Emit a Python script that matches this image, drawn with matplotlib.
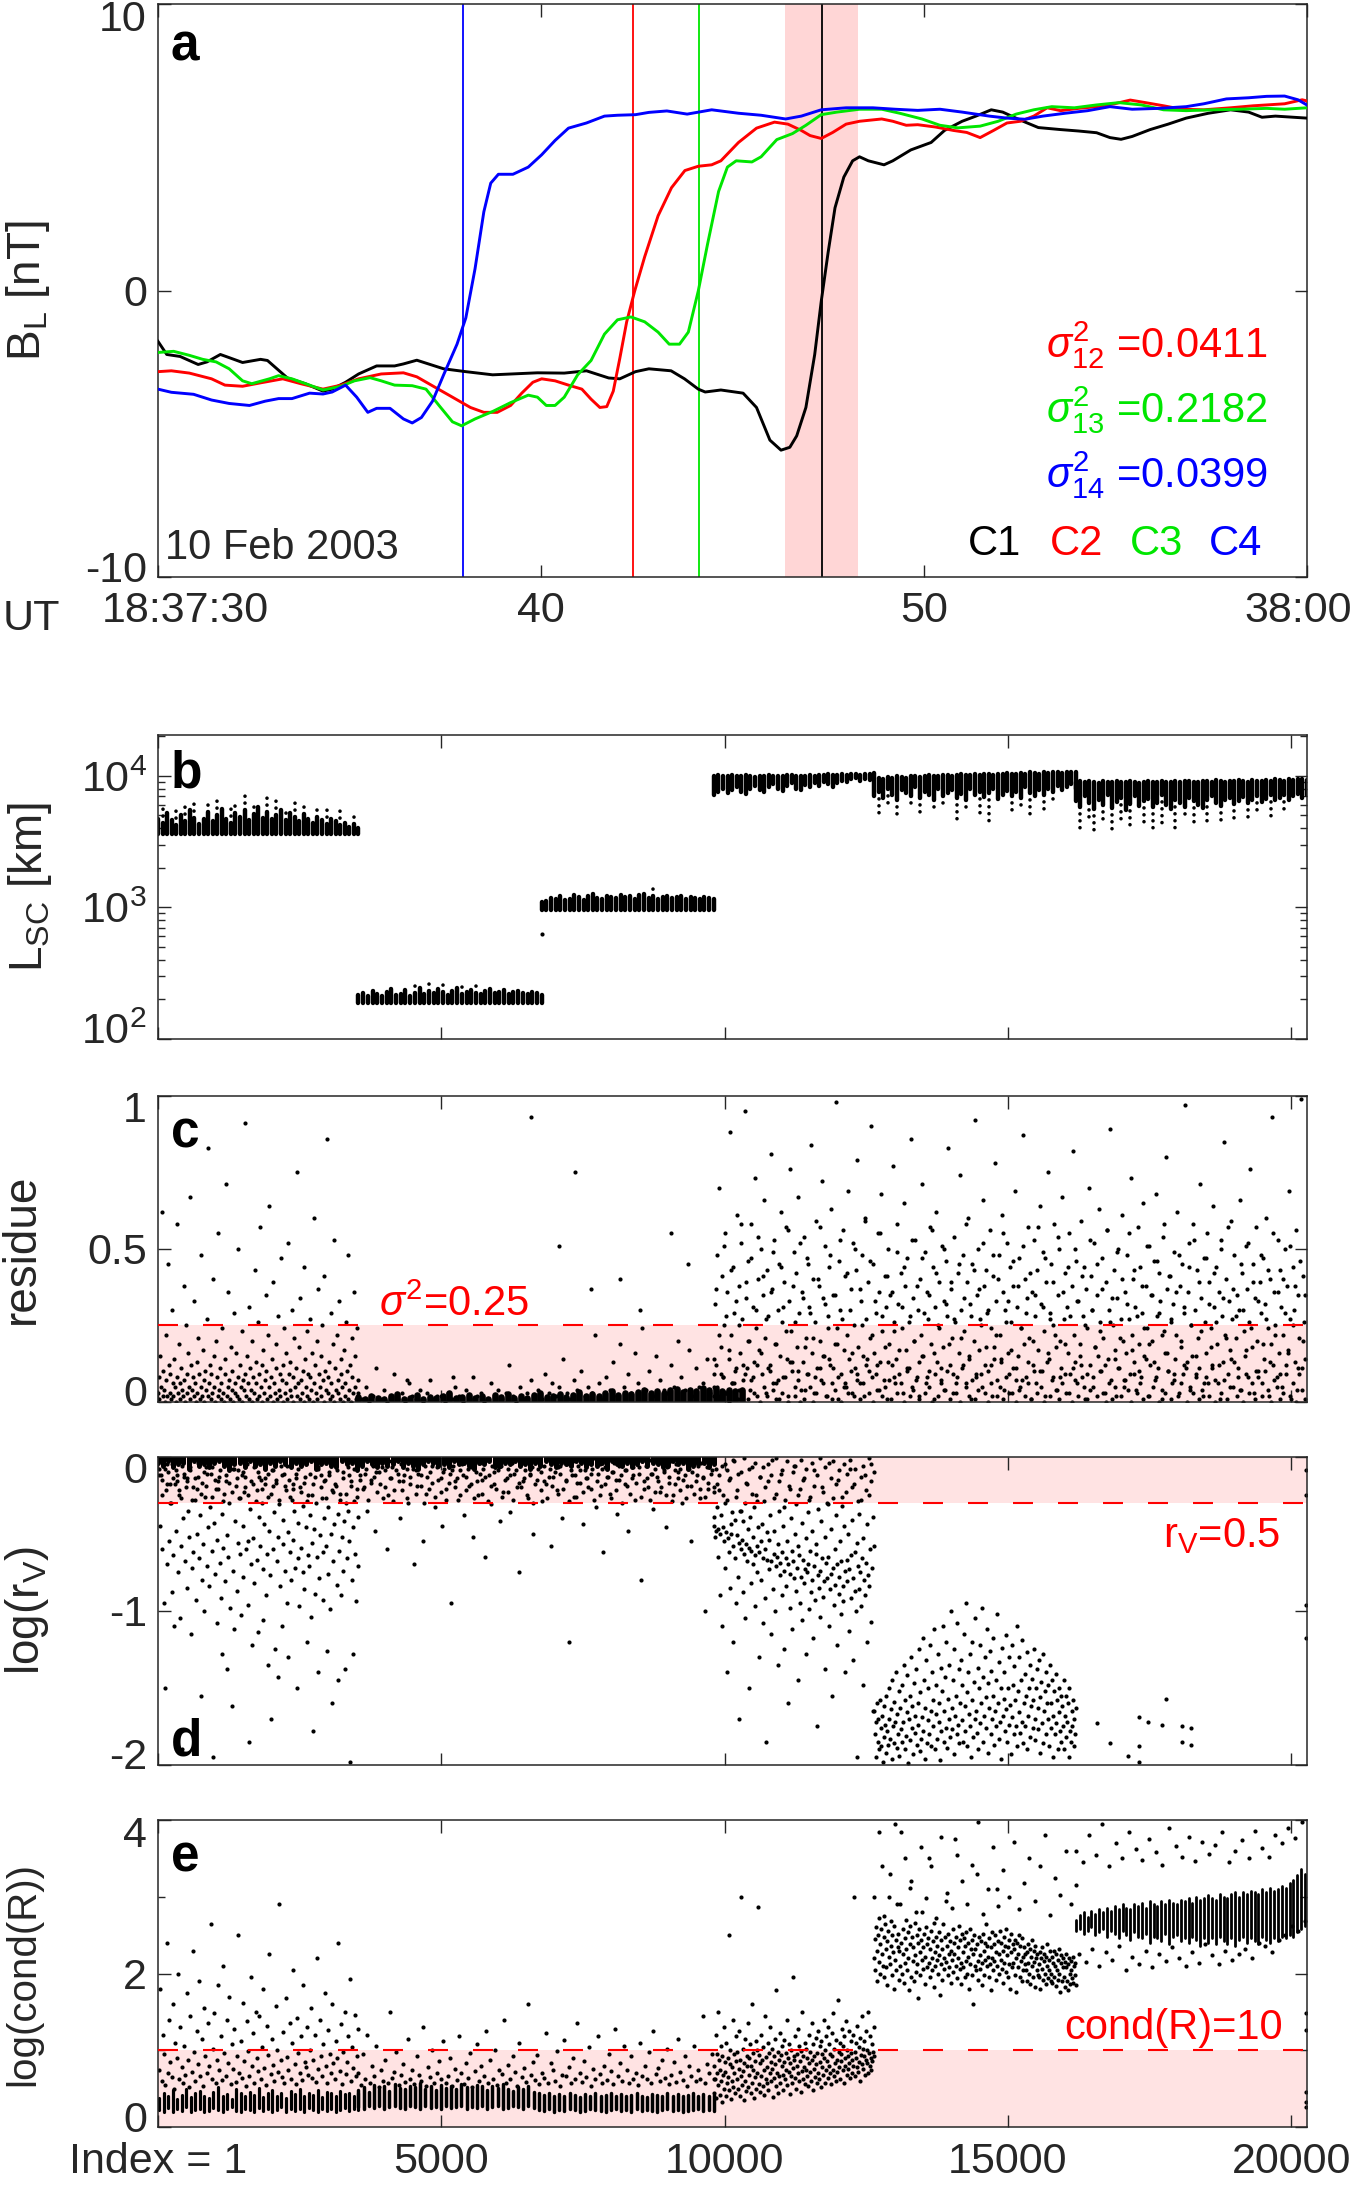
import numpy as np
import matplotlib
matplotlib.use('agg')
import matplotlib.pyplot as plt
import matplotlib.transforms as mtransforms
from matplotlib import font_manager

# the reference lettering is tall and narrow, use a narrow sans when it is there
installed = {f.name for f in font_manager.fontManager.ttflist}
if 'Liberation Sans Narrow' in installed:
    base_family, fs, tfs = 'Liberation Sans Narrow', 36, 35
else:
    base_family, fs, tfs = 'Liberation Sans', 31, 30
plt.rcParams['font.family'] = [base_family, 'DejaVu Sans']
plt.rcParams['mathtext.fontset'] = 'custom'
plt.rcParams['mathtext.rm'] = base_family
plt.rcParams['mathtext.it'] = base_family + ':italic'
plt.rcParams['mathtext.bf'] = base_family + ':bold'
plt.rcParams['axes.unicode_minus'] = False
plt.rcParams['font.size'] = fs

# ---------------- panel a : B_L for the four spacecraft (seconds after 18:37)
t_c1 = [30, 30.23, 30.58, 31.05, 31.28, 31.63, 31.86, 32.21, 32.68, 32.86, 33.38, 33.85, 34.31, 34.55, 34.9, 35.24,
        35.71, 36.18, 36.41, 36.76, 37.11, 37.46, 38.04, 38.74, 39.91, 40.61, 41.19, 41.77, 42.06, 42.47, 42.82, 43.4,
        43.75, 44.11, 44.29, 44.7, 45.28, 45.63, 45.98, 46.27, 46.5, 46.68, 46.92, 47.15, 47.32, 47.5, 47.68, 47.91,
        48.14, 48.32, 48.55, 48.96, 49.19, 49.66, 50.19, 50.54, 51.0, 51.36, 51.76, 52.06, 52.52, 52.99, 53.57, 54.04,
        54.51, 54.86, 55.15, 55.44, 55.91, 56.38, 56.85, 57.43, 58.01, 58.48, 58.83, 59.18, 59.65, 60]
bl_c1 = [-1.76, -2.22, -2.29, -2.57, -2.48, -2.22, -2.33, -2.50, -2.39, -2.43, -3.04, -3.24, -3.50, -3.43, -3.19, -2.90,
         -2.62, -2.62, -2.55, -2.42, -2.57, -2.72, -2.82, -2.93, -2.86, -2.87, -2.79, -3.04, -3.07, -2.82, -2.72, -2.79,
         -3.07, -3.43, -3.53, -3.46, -3.57, -4.07, -5.21, -5.56, -5.46, -5.06, -4.07, -2.22, -0.37, 1.34, 2.90, 3.97,
         4.54, 4.68, 4.54, 4.40, 4.54, 4.92, 5.18, 5.60, 5.92, 6.10, 6.32, 6.24, 5.96, 5.70, 5.63, 5.58,
         5.52, 5.35, 5.29, 5.39, 5.63, 5.82, 6.03, 6.20, 6.32, 6.24, 6.06, 6.10, 6.06, 6.03]
t_c2 = [30, 30.35, 30.82, 31.4, 31.75, 32.21, 32.68, 33.26, 33.73, 34.31, 34.78, 35.24, 35.83, 36.41, 36.76, 37.23,
        37.69, 38.16, 38.51, 38.86, 39.21, 39.5, 39.79, 40.02, 40.37, 40.72, 41.07, 41.31, 41.54, 41.72, 41.89, 42.06,
        42.24, 42.45, 42.71, 43.06, 43.41, 43.76, 44.11, 44.46, 44.7, 45.16, 45.63, 46.1, 46.45, 46.8, 47.03, 47.32,
        47.62, 47.97, 48.32, 48.9, 49.19, 49.54, 49.84, 50.3, 50.77, 51.12, 51.47, 51.82, 52.17, 52.52, 52.87, 53.22,
        53.57, 54.04, 54.51, 54.98, 55.39, 55.79, 56.26, 56.73, 57.31, 58.01, 58.6, 59.42, 59.88, 60]
bl_c2 = [-2.82, -2.79, -2.87, -3.07, -3.29, -3.33, -3.21, -3.07, -3.24, -3.43, -3.29, -3.07, -2.90, -2.86, -3.0, -3.36,
         -3.71, -4.07, -4.24, -4.24, -4.0, -3.57, -3.19, -3.07, -3.14, -3.29, -3.43, -3.78, -4.07, -4.04, -3.50, -2.36,
         -1.08, 0.0, 1.19, 2.62, 3.6, 4.2, 4.35, 4.40, 4.54, 5.18, 5.68, 5.89, 5.82, 5.60, 5.42, 5.32,
         5.53, 5.82, 5.92, 6.0, 5.92, 5.78, 5.80, 5.72, 5.60, 5.53, 5.35, 5.60, 5.86, 5.92, 6.10, 6.39,
         6.29, 6.37, 6.43, 6.53, 6.66, 6.57, 6.46, 6.34, 6.32, 6.39, 6.46, 6.53, 6.67, 6.63]
t_c3 = [30, 30.41, 30.82, 31.17, 31.52, 31.86, 32.21, 32.45, 32.91, 33.15, 33.5, 33.96, 34.31, 34.78, 35.13, 35.54,
        35.83, 36.18, 36.64, 37.0, 37.34, 37.69, 37.93, 38.28, 38.74, 39.21, 39.67, 39.91, 40.14, 40.37, 40.61, 40.96,
        41.31, 41.66, 42.0, 42.35, 42.71, 43.06, 43.35, 43.62, 43.85, 44.11, 44.35, 44.64, 44.87, 45.1, 45.51, 45.75,
        46.16, 46.57, 46.92, 47.32, 47.73, 48.32, 48.9, 49.37, 49.95, 50.42, 50.89, 51.47, 51.94, 52.41, 52.87, 53.34,
        53.93, 54.51, 55.09, 55.68, 56.26, 56.85, 57.55, 58.25, 58.95, 59.42, 60]
bl_c3 = [-2.15, -2.11, -2.25, -2.39, -2.48, -2.72, -3.14, -3.24, -3.07, -2.96, -3.07, -3.29, -3.46, -3.33, -3.14, -3.03,
         -3.14, -3.29, -3.31, -3.43, -4.0, -4.57, -4.71, -4.47, -4.21, -3.90, -3.64, -3.71, -4.0, -4.0, -3.71, -2.93,
         -2.43, -1.51, -1.01, -0.91, -1.08, -1.44, -1.86, -1.86, -1.44, 0.0, 1.62, 3.47, 4.32, 4.54, 4.5, 4.68,
         5.28, 5.49, 5.78, 6.15, 6.24, 6.34, 6.34, 6.20, 6.0, 5.78, 5.69, 5.75, 5.92, 6.17, 6.32, 6.43,
         6.39, 6.49, 6.57, 6.49, 6.32, 6.29, 6.32, 6.34, 6.37, 6.34, 6.39]
t_c4 = [30, 30.35, 30.93, 31.4, 31.86, 32.39, 32.8, 33.15, 33.5, 33.96, 34.31, 34.55, 34.9, 35.19, 35.48, 35.71,
        36.06, 36.41, 36.64, 36.88, 37.17, 37.46, 37.81, 38.04, 38.28, 38.51, 38.69, 38.89, 39.27, 39.67, 40.02, 40.37,
        40.72, 41.19, 41.66, 42.0, 42.47, 42.82, 43.29, 43.82, 44.46, 45.16, 45.75, 46.39, 46.8, 47.32, 47.97, 48.67,
        49.25, 49.84, 50.42, 51.0, 51.71, 52.17, 52.64, 53.11, 53.69, 54.28, 54.86, 55.44, 56.14, 56.85, 57.31, 57.9,
        58.48, 58.95, 59.42, 59.77, 60]
bl_c4 = [-3.43, -3.54, -3.61, -3.81, -3.93, -4.0, -3.85, -3.76, -3.76, -3.57, -3.60, -3.53, -3.29, -3.71, -4.24, -4.10,
         -4.10, -4.47, -4.61, -4.42, -3.85, -2.93, -1.86, -0.94, 0.77, 2.76, 3.76, 4.07, 4.07, 4.32, 4.75, 5.25,
         5.68, 5.86, 6.10, 6.13, 6.15, 6.23, 6.28, 6.17, 6.32, 6.20, 6.13, 6.0, 6.10, 6.32, 6.39, 6.39,
         6.34, 6.30, 6.34, 6.24, 6.10, 6.03, 5.99, 6.10, 6.20, 6.29, 6.43, 6.34, 6.37, 6.43, 6.53, 6.70,
         6.74, 6.79, 6.80, 6.67, 6.49]
crossing_times = [37.97, 42.41, 44.12, 47.33]
crossing_colors = ['#0000ff', '#ff0000', '#00e600', '#000000']
span_c1 = [46.38, 48.27]
sigma_labels = [r'$\sigma^2_{12}$ =0.0411', r'$\sigma^2_{13}$ =0.2182', r'$\sigma^2_{14}$ =0.0399']
sc_names = ['C1', 'C2', 'C3', 'C4']
sc_colors = ['#000000', '#ff0000', '#00e600', '#0000ff']

# ---------------- panels b-e : index axis, segments of the sliding-window scan
seg_edges = [1, 3540, 6772, 9810, 12640, 16200, 20275]
index_ticks = [1, 5000, 10000, 15000, 20000]
index_labels = ['Index = 1', '5000', '10000', '15000', '20000']

# panel b, L_SC [km] : streak columns (core lo/hi) and dotted tails
b1_lo = 3600
b1_hi = "47 44 52 46 42 50 45 55 48 43 47 53 45 50 56 47 44 52 49 55 46 51 58 48 53 47 50 55 46 52 49 45 51 47 44 49 46 43 47 45 42 44 41 43 40"
b1_tail = "0 60 0 0 55 0 64 0 68 0 0 62 0 70 0 0 58 66 0 72 0 63 0 0 70 0 66 0 58 0 68 0 62 0 0 60 0 57 0 0 55 0 0 50 0"
b2_lo = 188
b2_hi = "215 222 210 230 218 212 226 240 215 220 235 212 225 245 218 230 222 238 226 215 232 244 220 228 236 225 218 230 240 222 228 234 220 226 232 224 219 228 222 216"
b2_tail = "0 0 0 250 0 0 0 255 0 0 0 0 260 0 0 282 0 0 262 0 0 0 270 0 0 250 0 0 0 0 0 262 0 0 245 0 0 0 0 0"
b3_lo = 960
b3_hi = "1100 1120 1180 1150 1210 1130 1160 1240 1190 1140 1220 1260 1180 1150 1230 1200 1170 1250 1190 1220 1160 1240 1270 1180 1210 1150 1200 1230 1170 1190 1220 1160 1200 1180 1150 1190 1170 1160"
b3_tail = "0 0 0 0 0 0 0 0 0 0 0 1350 0 0 0 0 0 0 0 0 0 0 0 0 1400 0 0 0 0 0 0 0 0 0 0 0 0 0"
b3_outlier = [6780, 630]
b4_hi = "100 101 99 100 102 100 99 101 100 98 99 100 101 100 99 100 101 102 100 99 100 101 100 102 101 103 102 101 103 102 104 103 102 104 103 105"
b4_lo = "72 76 80 74 78 82 76 73 80 84 78 75 82 86 80 77 83 88 80 78 85 82 88 84 90 86 82 88 92 90 94 96 92 95 93 96"
b5_hi = "96 97 95 98 97 99 98 97 99 100 98 99 101 100 99 101 102 100 101 103 102 101 103 102 104 103 102 104 103 105 104 103 105 104 106 105 104 106 105 107 106 105 107 106 107"
b5_lo = "70 75 68 80 72 66 78 74 70 82 68 76 72 65 80 70 74 78 68 73 66 79 71 76 69 74 80 67 72 77 70 75 68 82 74 70 78 72 80 76 84 78 82 86 80"
b5_tail = "0 52 0 60 0 50 0 0 56 0 48 0 0 53 0 58 0 0 47 0 55 0 0 50 0 45 0 60 0 0 52 0 57 0 48 0 0 55 0 62 0 0 0 0 0"
b6_hi = "90 92 89 91 90 88 91 90 89 92 90 89 91 90 88 90 91 89 90 92 90 89 91 90 92 91 89 90 92 91 90 93 91 90 92 91 93 92 90 93 92 91 93 92 94 93 92 94 93 95 94 93"
b6_lo = "64 58 70 62 56 66 60 72 57 63 68 55 61 70 59 64 67 58 62 71 60 56 66 62 58 68 64 60 57 66 70 62 59 65 68 61 64 69 62 66 70 63 67 72 65 68 71 66 70 73 68 72"
b6_tail = "0 40 0 45 38 0 42 0 36 0 44 0 38 0 0 41 0 37 0 43 0 0 39 0 46 0 40 0 0 42 0 0 45 0 0 48 0 0 44 0 50 0 0 47 0 0 52 0 0 0 0 0"

# panel c, residue (hundredths unless noted)
c1 = """3 8 1 15 5 62 2 10 4 0 22 7 2 45 12 3 9 1 30 6 2 14 5 0 58 8 3 19 1 6 11 4 2 38 7 0 25 9 3 16
5 1 67 12 4 8 2 33 6 0 13 3 21 9 1 48 5 2 17 7 0 10 4 27 2 83 6 12 1 9 3 40 15 5 0 20 8 2 55 4
11 1 6 24 3 0 14 9 71 2 5 36 7 1 18 4 10 0 29 6 3 16 2 8 50 1 12 5 23 0 7 4 91 9 2 15 6 31 1 11
4 0 20 8 3 43 13 6 1 26 9 2 57 5 12 0 17 3 7 35 10 1 22 5 64 2 8 14 0 39 6 3 19 11 1 28 4 9 2 47
7 12 0 24 3 16 6 1 52 9 4 13 2 30 8 0 21 5 11 75 2 6 18 1 34 7 3 10 0 44 14 5 23 2 9 1 27 8 4 16
0 60 6 12 3 20 1 37 9 5 15 2 25 7 0 41 10 4 86 3 8 13 1 29 6 2 19 0 53 11 4 22 7 3 33 1 9 14 5 0
17 6 2 26 10 1 48 4 12 0 21 8 3 36 5 15 1 24 7 2"""
c_core_range = [3540, 10300]
c_core_hi = "15 10 20 12 8 18 25 10 14 22 9 16 12 20 28 11 15 24 13 18 10 21 16 27 12 19 14 23 30 17 20 26 15 22 32 18 25 20 28 35 22 30 26 33 40 28 35 30 38 42 32 40 36 44 38 42 36 40 34 38"  # thousandths
c2 = """3 1 5 0 2 11 1 4 0 2 9 1 3 0 6 2 1 4 0 3 7 1 2 2 0 3 1 5 2 0 4 1 8 2 3 0 1 6 2 4
1 3 12 2 0 5 1 3 7 2 4 1 9 3 6 2 5 14 3 1 7 4 10 2 5 3 22 6 1 8 4 13 2 19 5 9 3 16 6 24
4 10 2 15 7 4 3 12 5 20 8 4 17 2 11 5 6 14 3 9"""
c2_out_x = [4400, 5200, 6580, 7080, 7360, 7650, 8150, 8500, 9050, 9350]
c2_out_y = [0.07, 0.08, 0.93, 0.51, 0.75, 0.37, 0.40, 0.30, 0.55, 0.45]
c3 = """5 32 12 48 2 70 18 41 8 25 55 3 36 14 88 22 6 44 29 10 61 1 38 16 52 27 7 95 34 11 46 20 4 58 31 13 73 24 2 40
17 50 9 35 66 21 3 43 28 12 81 37 6 53 19 1 30 45 15 62 26 8 39 57 14 2 33 76 23 10 49 5 42 18 67 29 0 36 13 54
4 21 47 9 31 84 16 40 3 26 59 11 38 20 7 72 34 15 51 2 28 44 12 63 6 35 19 98 24 1 46 30 9 56 17 41 5 22 69 14
37 3 52 25 11 43 79 18 6 33 48 15 2 60 27 39 10 21 90 8 45 16 29 4 55 36 13 68 23 7 41 31 1 50 19 35 12 77 26 6
14 58 32 9 42 24 3 65 38 17 47 11 28 86 5 34 20 53 8 30 2 40 22 71 15 49 6 36 27 10 57 19 44 1 31 62 13 25 39 7
51 18 33 4 46 28 83 12 37 21 9 54 26 3 42 16 74 30 11 48 23 6 39 60 14 32 1 45 20 92 8 35 50 17 27 5 66 38 12 43
29 10 56 24 2 41 18 78 33 7 48 22 13 61 36 4 30 52 16 9 44 26 3 38 69 11 31 15 47 5 24 87 19 40 8 34 57 21 1 36
12 53 28 6 43 17 64 32 10 49 23 2 39 75 14 29 45 7 25 58 18 4 35 50 20 11 67 27 42 3 31 16 55 9 38 82 22 13 46 6
33 19 59 8 28 44 1 37 24 70 12 41 30 5 52 18 35 15 63 26 10 47 21 3 39 56 14 30 89 7 25 43 17 2 34 50 11 27 61 20
5 36 16 48 27 9 73 22 40 13 31 4 57 19 44 8 29 65 15 38 24 2 51 12 35 20 46 7 68 28 11 42 33 1 54 23 16 80 37 10
41 26 6 32 49 14 22 62 3 38 18 45 9 29 97 13 36 52 4 25 15 58 30 8 43 21 11 71 34 2 47 26 16 55 6 39 24 12 64 31
7 44 19 36 1 53 28 13 85 22 40 9 33 17 59 27 5 48 21 35 11 30 66 4 42 23 15 51 37 8 26 76 18 45 3 34 57 20 10 39
29 6 47 14 32 60 24 2 40 19 93 12 36 25 8 53 16 43 31 5 22 50 9 38 17 69 27 1 44 30 13 56 4 35 21 99 11 41 26 14"""
c3_mid = """14 37 22 9 51 28 17 43 6 33 25 58 12 39 20 47 8 30 54 16 41 27 11 36 49 19 7 44 31 23 56 13 38 26 10 52 34 18 45 29
21 8 40 57 15 32 24 48 11 35 19 53 27 6 42 30 16 50 9 37 25 59 14 46 22 33 12 55 28 18 41 7 36 23 49 17 31 44 10 26
53 20 38 13 47 29 8 35 56 16 42 24 11 50 32 19 39 27 6 45 21 34 58 15 28 43 9 37 25 52 18 30 12 48 22 40 14 55 26 33
17 46 7 38 24 51 29 13 42 20 35 57 10 31 47 16 27 39 22 54 8 36 19 44 28 11 50 33 15 41 25 9 53 30 18 45 23 37 12 56
26 34 14 49 21 40 7 32 55 17 43 28 10 38 24 51 19 35 13 46 29 22 58 16 41 27 9 36 48 20 31 11 44 25 53 15 39 23 6 47
32 18 42 26 12 50 34 21 57 14 37 28 8 45 30 17 52 24 39 10 33 48 19 27 43 13 55 22 36 9 40 29 16 51 25 38 11 46 20 35"""
c3_low = """2 5 1 8 3 0 6 11 4 2 9 1 7 3 12 0 5 2 10 4 6 1 3 8 0 13 2 7 4 1 9 5 0 3 11 6 2 14 1 4
8 0 5 3 10 2 7 1 6 12 3 0 9 4 2 5 13 1 8 3 6 0 11 2 4 7 1 15 3 5 0 9 2 6 4 10 1 3 8 0
12 5 2 7 1 4 9 3 0 6 14 2 5 1 8 3 11 0 4 7 2 6 1 10 3 5 0 13 2 8 4 1 6 9 3 0 7 2 12 5
1 4 8 2 10 3 0 6 1 5 11 2 7 4 0 9 3 6 1 14 2 5 8 0 4 3 10 1 7 2 6 12 0 5 3 9 1 4 8 2
11 0 6 3 7 1 5 13 2 4 0 9 3 6 1 8 2 10 4 0 7 5 1 3 12 2 6 0 9 4 1"""
c_threshold = 0.25

# panel d, log(r_V) (negated hundredths)
d_core_hi = """4 6 3 7 5 4 8 3 6 5 7 4 3 6 9 5 4 7 3 6 5 8 4 6 3 5 7 4 6 5 3 8 5 4 6 7 3 5 4 9 6 3 5 7 4 6 5 3 7 4 6 8 5 3 4
6 5 7 3 5 4 6 8 4 5 3 7 6 4 5 3 6 5 8 4 6 3 5 7 4 5 6 3 4 7 5 6 4 8 3 5 6 4 7 5 3 6 4 5 7 6 3 5 4 8 6 5 4 7 5"""
d1_pink = """12 25 8 18 30 14 9 22 27 11 16 7 20 28 13 24 10 19 6 26 15 21 9 29 12 17 23 8 14 27 10 20 25 16 7 22 13 30 18 11
24 9 15 28 12 19 6 26 21 14 8 23 17 29 11 25 13 7 20 16 27 10 22 18 9 24 14 30 12 19 8 26 15 21 11 28 17 13 23 10
7 20 25 14 29 9 16 22 12 27 18 8 24 11 19 30 13 21 6 26 15 23 10 28 17 9 20 14 25 12 22 8 18 27 16 11 24 13 29 19
10 21 7 26 15 23 12 28 9 17 20 14 25 11 30 18 8 22 16 27 13 19 10 24 6 21 15 29 12 26 17 9 23 14 20 11 28 16 25 8
18 13 27 10 22 15 30 9 19 24 12 17 7 26 21 14 28 11 23 16 20 9 25 13 29 18 10 22 15 27 8 19 24 12 21 14 26 17 11 23"""
d1a = """8 45 12 15 60 3 95 150 22 70 5 10 55 18 30 88 5 64 110 18 48 16 12 75 25 105 58 190 6 40 13 68 20 85 14 35 52 9 115 72
28 62 175 14 93 50 21 4 66 38 155 80 17 57 100 26 7 71 11 46 84 33 11 61 7 195 43 76 21 108 54 16 13 69 92 37 128 59 24 81
16 51 138 65 30 98 4 162 8 74 112 42 19 87 56 9 27 63 103 12 45 78 23 13 60 5 96 55 185 34 70 122 18 53 82 6 29 67 10 114
39 58 15 21 73 106 44 14 90 63 135 26 48 77 170 9 60 19 36 125 17 68 52 143 31 84 6 110 57 41 11 74 22 95 49 130 15 62 80 28
54 18 35 72 11 150 66 43 97 20 59 3 75 32 86 13 46 120 64 25 71 38 104 56 18 178 47 89 30 65 140 8 79 51 12 27 62 93 40 15
58 126 33 76 12 99 50 160 23 68 44 2 19 83 37 145 61 28 90 52 10 74 42 138 24 66 7 35 55 198 16 80 46 128 29 63 94 21 71 39"""
d1b = """5 12 3 20 8 35 2 15 6 48 10 4 18 1 27 9 60 3 14 7 22 2 11 40 5 16 1 8 30 13 4 70 9 19 3 12 55 6 24 2
10 17 4 33 7 1 14 45 8 21 3 11 95 6 16 2 28 9 5 38 13 3 19 7 52 1 10 25 4 15 8 65 2 12 31 6 18 3 9 42
6 23 2 14 8 36 4 11 1 20 75 5 16 9 3 27 12 7 50 2 15 4 10 29 6 18 1 8 58 13 3 22 7 11 40 2 16 5 120 9
3 12 26 6 17 2 44 9 14 4 21 8 1 33 11 5 19 62 7 13 2 24 10 4 15 37 6 12 3 18 9 48 1 14 7 28 5 11 80 3
16 6 20 2 11 34 8 13 4 23 1 10 46 7 17 3 25 9 5 14 8 30 3 12 19 5 55 10 2 16 6 27 4 13 100 7 21 1 9 39"""
d2 = """45 20 52 8 48 33 65 47 12 90 50 38 110 46 25 55 5 72 49 140 28 53 62 15 85 44 50 36 120 58 3 66 41 95 51 22 78 56 170 35
60 10 54 88 42 63 30 105 57 18 68 47 150 59 39 82 61 7 70 52 33 97 64 25 58 75 46 130 62 13 80 55 44 108 66 29 92 60 185 49
67 16 73 54 38 115 68 2 86 63 48 100 71 24 65 135 57 35 77 69 11 90 62 45 125 74 28 84 66 55 160 70 19 98 76 40 61 112 68 6
79 50 31 87 72 58 145 64 21 95 78 43 106 67 14 82 73 53 128 75 36 70 99 61 26 88 80 48 118 71 9 93 63 57 175 77 34 85 74 104
42 66 20 91 81 52 138 69 30 79 65 110 4 86 76 47 155 72 27 96 60 83 38 122 70 15 89 78 55 102 68 32 94 84 45 140 74 23 81 67
50 113 73 8 92 64 41 132 79 18 87 62 100 56 195 71 37 86 75 28 97 66 53 148 80 12 90 69 44 120 77 25 84 60 107 5 72 39 165 58"""
d2_top = """3 18 22 6 30 9 14 2 26 11 35 1 17 8 24 4 29 13 7 20 5 12 27 1 16 9 33 3 21 10
6 25 2 15 8 28 4 19 12 1 23 7 31 14 3 18 9 26 5 11 2 20 8 29 13 6 22 1 16 10"""
d3 = """165 180 172 195 160 185 170 190 158 176 188 168 198 162 182 174 192 155 178 187 170 150 183 164 196 145 175 186 159 172 140 189 167 180 152 194 163 177 148 185
172 135 190 158 181 166 142 199 170 155 184 130 176 162 193 147 179 168 138 187 160 174 125 191 153 183 169 118 178 145 196 163 132 186 171 150 180 122 165 188
140 175 158 112 190 167 148 183 128 172 160 197 137 178 152 110 185 165 143 176 120 189 157 170 135 182 100 163 177 145 193 125 168 155 180 108 174 138 186 160
132 171 148 185 115 162 178 95 153 188 140 167 175 128 195 158 120 182 146 170 105 165 179 137 190 150 122 173 160 98 185 143 168 130 176 156 112 192 147 163
126 180 139 170 155 118 187 165 145 175 102 160 183 133 172 150 196 124 168 157 140 178 116 164 185 150 130 174 161 193 122 169 148 180 136 158 175 110 188 152
166 130 179 145 172 119 186 160 141 175 155 127 190 168 150 135 182 162 144 176 158 125 184 170 150 138 177 163 132 192 156 146 173 128 186 165 152 140 180 160
170 148 188 135 176 160 145 195 168 152 180 141 173 158 190 150 166 178 155 185 162 175 145 190 168 155 182 172 160 195 150 178 185 165 175 158 188 170 180 163"""
d4_x = [16566, 16810, 17125, 17310, 17310, 17310, 17480, 17720, 17790, 18065, 18065, 18240, 18240, 20265, 20265, 20265, 20265]
d4_y = [-1.73, -1.86, -1.94, -1.69, -1.88, -1.98, -1.72, -1.74, -1.57, -1.75, -1.85, -1.76, -1.87, -0.09, -0.25, -0.96, -1.18]
d_threshold = np.log10(0.5)

# panel e, log(cond(R)) (hundredths)
e1_lo = "22 20 25 19 23 21 26 20 22 24 19 21 25 22 20 23 26 21 19 24 22 20 25 21 23 19 22 26 20 24 21 23 20 25 22 19 24 21 23 20 22 25 21 24 22"
e1_hi = "38 45 40 48 36 42 50 39 44 47 41 38 46 52 40 43 37 49 44 40 46 42 51 39 45 48 41 44 38 47 43 50 40 45 42 48 39 46 44 41 47 43 45 40 44"
e1 = """75 180 60 120 95 55 240 70 140 85 65 160 50 110 90 200 62 130 78 58 105 68 175 88 52 145 72 230 98 60 125 82 190 66 115 54 155 92 70 135
80 265 63 102 148 57 88 185 74 118 61 210 96 67 140 83 170 56 108 76 128 59 92 250 71 112 64 162 86 53 138 99 66 195 79 122 58 150 90 73
145 62 104 180 77 55 132 94 225 69 115 81 60 158 100 72 290 87 65 124 57 168 91 74 136 63 110 205 82 56 142 97 70 118 61 185 85 78 130 68
100 155 64 88 120 59 220 76 140 93 67 108 175 80 58 126 95 71 160 83 62 112 90 240 73 134 56 98 150 69 85 118 193 60 104 77 146 66 92 128"""
e2_lo = """26 24 27 25 28 24 26 27 25 23 27 26 24 28 25 26 24 27 25 26 28 24 26 25 27 23 26 28 24 25 27 26 24 28 25
22 21 23 20 22 21 23 22 20 21 23 22 21 20 22 23 21 22 20 23 21 22 21 20 22 23 21 22 20 21 22 23 21 22 21"""
e2_hi = """48 52 46 55 50 53 47 56 51 49 54 52 57 50 53 48 55 51 54 49 56 52 50 55 53 48 54 51 56 50 47 52 49 53 46
44 42 45 40 43 41 44 42 39 43 41 45 40 42 44 41 43 40 42 45 41 39 43 42 40 44 41 43 40 42 44 41 43 40 42"""
e2 = """70 55 95 62 120 58 80 66 105 52 75 60 88 57 150 64 72 98 55 68 82 59 115 63 74 56 92 68 60 130 54 78 65 100 58 71 86 62 112 57
66 90 53 76 61 118 70 56 84 64 96 52 73 108 60 79 67 125 58 87 63 100 55 74 69 140 57 81 62 93 72 54 110 65 77 59 160 68 85 61
94 56 70 64 122 58 83 75 60 99 53 68 114 66 78 57 90 62 135 71 59 86 65 104 54 76 63 118 69 58 80 61 95 73 56 128 67 84 60 106
74 57 92 63 70 55 110 66 80 62 98 58 125 69 77 60 88 64 102 56 68 85 59 115 72 61 93 54 79 66 106 60 75 63 145 58 82 70 95 62"""
e3 = """45 80 62 120 38 95 70 55 150 88 42 75 105 60 33 92 68 130 50 85 72 40 110 58 90 65 250 48 82 100 36 78 60 140 52 95 70 44 118 86
63 98 50 76 125 40 88 67 300 55 102 73 35 84 60 115 47 92 79 135 52 90 68 108 44 80 58 160 74 96 38 86 65 112 50 100 71 287 56 94
83 46 120 66 88 54 104 75 42 145 62 91 78 58 110 48 96 70 130 85 60 102 76 39 92 64 115 82 53 178 70 98 45 87 66 122 57 94 80 106
68 48 113 85 62 96 74 140 55 90 72 108 43 83 66 100 58 195 77 92 88 64 118 50 95 80 70 128 60 105 86 46 99 73 150 62 92 78 110 56
75 102 67 90 54 120 84 72 98 60 135 88 48 108 76 93 65 116 82 58 96 70 125 62 105 85 52 112 78 95 68 140 90 57 100 74 118 86 64 130
80 108 70 95 56 122 92 75 148 66 102 84 60 114 88 72 165 98 78 110 62 95 86 128 74 105 58 118 90 80 138 68 100 92 76 125 84 64 112 96
88 70 120 80 300 98 66 110 90 78 132 72 104 85 60 116 94 82 145 102 76 112 92 68 125 88 100 84 70 150 96 80 118 90 74 108 86 98 130 92"""
e4 = """220 245 205 260 230 190 250 215 272 238 200 258 225 340 210 248 195 265 232 208 242 185 255 222 300 212 268 236 198 250 228 180 262 218 244 205 290 235 252 192
230 210 385 240 200 258 226 188 246 214 270 232 204 254 220 178 262 238 196 320 248 216 235 190 266 224 202 250 212 240 168 258 228 198 244 218 280 234 206 252
222 186 260 238 208 246 214 350 232 196 256 220 204 242 182 266 228 210 248 218 236 200 254 224 172 244 212 232 192 264 220 206 248 215 295 236 198 252 226 208
242 188 230 218 258 202 240 225 375 210 248 194 234 220 262 206 244 214 186 252 228 208 246 196 236 216 254 200 240 222 180 258 212 232 198 244 160 226 250 210
232 204 330 238 216 192 248 224 206 242 214 185 252 230 198 240 218 264 210 236 222 196 246 212 234 178 254 220 204 238 216 250 192 228 310 210 242 226 200 256
218 240 206 230 188 248 214 236 202 258 224 196 234 212 244 180 228 252 208 238 214 232 198 244 220 176 240 208 226 250 196 236 216 190 246 222 205 234 212 225
205 228 190 238 214 200 232 186 222 244 210 196 230 215 182 236 220 204 226 198 212 196 228 180 220 206 234 192 216 226 200 186 222 210 238 194 218 205 230 190
200 222 188 214 230 196 210 184 226 204 218 192 232 200 176 214 224 190 208 220 195 215 182 208 226 190 212 178 220 200 186 216 204 194 222 188 210 198 214 185"""
e4_high = """300 385 275 330 395 290 350 312 280 365 298 340 272 378 305 285 355 320 290 342
398 278 310 365 288 335 300 372 284 318 350 295 340 380 276 325 302 360 290 315"""
e5_lo = """256 258 252 255 260 250 254 258 248 255 252 246 256 250 244 254 248 246 252 240 248 246 242 252 238 248 250 242 246 240
248 244 236 246 240 246 238 248 242 238 246 236 244 248 240 246 242 238 248 244 240 246 242 248 246 250 248 254 258 262"""
e5_hi = """270 276 280 274 282 278 284 280 286 282 288 284 290 286 284 290 288 292 286 294 290 288 294 290 296 292 290 296 294 298
292 300 296 298 302 298 296 304 300 298 304 306 300 306 304 308 306 304 310 306 312 308 310 314 312 318 322 328 336 330"""
e5 = """360 225 345 215 380 232 355 210 395 228 340 218 370 236 350 205 385 222 362 212 348 230 375 208 358 226 342 216 390 234
366 220 352 210 378 228 346 214 372 238 356 224 368 212 384 230 345 218 360 226 374 232 350 220 386 240 364 236 352 228
380 244 370 250 390 262 376 255 398 268"""
e_edge_x = [20265, 20265, 20265, 20265, 20265]
e_edge_y = [1.49, 1.27, 0.46, 0.33, 0.26]
e_threshold = 1.0


def vals(s, scale=1.0):
    return np.array(s.split(), float) * scale


axis_grey = '#262626'
pink_a = '#ffd6d6'
pink = '#ffe3e3'
letter_fs = tfs + 7


def style(ax):
    for s in ax.spines.values():
        s.set_color(axis_grey)
        s.set_linewidth(1.1)
    ax.tick_params(which='both', direction='in', top=True, right=True, color=axis_grey,
                   labelcolor=axis_grey, width=1.0)
    ax.tick_params(which='major', length=9)
    ax.tick_params(which='minor', length=5)
    ax.tick_params(axis='x', pad=10)
    ax.tick_params(axis='y', pad=8)


def nudge_ends(ax, top=True, bottom=True, inch=0.11):
    # the outermost y labels sit a little inside the frame, as in the reference
    labs = ax.get_yticklabels()
    if bottom:
        labs[0].set_transform(labs[0].get_transform() + mtransforms.ScaledTranslation(0, inch, fig.dpi_scale_trans))
    if top:
        labs[-1].set_transform(labs[-1].get_transform() + mtransforms.ScaledTranslation(0, -inch, fig.dpi_scale_trans))


def letter(ax, s, y):
    ax.text(0.011, y, s, transform=ax.transAxes, fontweight='bold', fontsize=letter_fs, va='baseline', ha='left', zorder=6)


def dots(ax, x, y):
    ax.plot(x, y, 'o', color='k', ms=3, mew=0, zorder=2)


def spread(seg, v):
    return np.linspace(seg[0], seg[1], len(v))


def streaks(ax, seg, lo, hi, lw):
    hi = np.asarray(hi, float)
    if np.ndim(lo) > 0:
        n = min(len(lo), len(hi))
        lo = np.asarray(lo, float)[:n]
        hi = hi[:n]
    x = np.linspace(seg[0], seg[1], len(hi))
    ax.vlines(x, lo, hi, colors='k', lw=lw, capstyle='round', zorder=2)


def tails(ax, seg, start, end):
    start = np.asarray(start, float)
    end = np.asarray(end, float)
    n = min(len(start), len(end))
    x = np.linspace(seg[0], seg[1], len(start))[:n]
    m = end[:n] > 0
    ax.vlines(x[m], start[:n][m], end[:n][m], colors='k', lw=2.6,
              linestyles=[(0, (0.01, 1.9))], capstyle='round', zorder=2)


fig = plt.figure(figsize=(13.5, 21.87), dpi=100)
L, W = 0.117, 0.851

# ---------------- a
ax = fig.add_axes([L, 0.736, W, 0.262])
style(ax)
ax.axvspan(span_c1[0], span_c1[1], color=pink_a, lw=0, zorder=0)
for t, c in zip(crossing_times, crossing_colors):
    ax.axvline(t, color=c, lw=1.3, zorder=1)
for t, v, c in zip([t_c1, t_c2, t_c3, t_c4], [bl_c1, bl_c2, bl_c3, bl_c4], sc_colors):
    ax.plot(t, v, color=c, lw=2.1, zorder=3)
ax.set_xlim(30, 60)
ax.set_ylim(-10, 10)
ax.set_yticks([-10, 0, 10])
nudge_ends(ax)
ax.set_xticks([30, 40, 50, 60])
ax.set_xticklabels(['18:37:30', '40', '50', '38:00'])
labs = ax.get_xticklabels()
labs[0].set_transform(labs[0].get_transform() + mtransforms.ScaledTranslation(0.27, 0, fig.dpi_scale_trans))
labs[3].set_transform(labs[3].get_transform() + mtransforms.ScaledTranslation(-0.09, 0, fig.dpi_scale_trans))
letter(ax, 'a', 0.902)
ax.text(0.006, 0.016, '10 Feb 2003', transform=ax.transAxes, fontsize=tfs, color=axis_grey, va='bottom', ha='left')
for i, (s, c) in enumerate(zip(sigma_labels, sc_colors[1:])):
    ax.text(0.966, 0.384 - 0.114 * i, s, transform=ax.transAxes, color=c, fontsize=tfs, ha='right', va='baseline')
for xpos, s, c in zip([0.728, 0.800, 0.869, 0.938], sc_names, sc_colors):
    ax.text(xpos, 0.039, s, transform=ax.transAxes, color=c, fontsize=tfs, ha='center', va='baseline')
fig.text(0.002, 0.712, 'UT', fontsize=fs, color=axis_grey, ha='left', va='baseline')
fig.text(0.021, 0.736 + 0.131, r'B$_{\rm L}$ [nT]', rotation=90, fontsize=33, color=axis_grey, ha='center', va='center')

# ---------------- b
ax = fig.add_axes([L, 0.525, W, 0.139])
style(ax)
ax.set_yscale('log')
s = seg_edges
streaks(ax, (s[0], s[1]), b1_lo, vals(b1_hi, 100), 3.2)
tails(ax, (s[0], s[1]), vals(b1_hi, 100), vals(b1_tail, 100))
streaks(ax, (s[1], s[2]), b2_lo, vals(b2_hi), 3.2)
tails(ax, (s[1], s[2]), vals(b2_hi), vals(b2_tail))
streaks(ax, (s[2], s[3]), b3_lo, vals(b3_hi), 3.2)
tails(ax, (s[2], s[3]), vals(b3_hi), vals(b3_tail))
dots(ax, [b3_outlier[0]], [b3_outlier[1]])
streaks(ax, (s[3], s[4]), vals(b4_lo, 100), vals(b4_hi, 100), 3.2)
streaks(ax, (s[4], s[5]), vals(b5_lo, 100), vals(b5_hi, 100), 3.2)
tails(ax, (s[4], s[5]), vals(b5_lo, 100), vals(b5_tail, 100))
streaks(ax, (s[5], s[6]), vals(b6_lo, 100), vals(b6_hi, 100), 3.2)
tails(ax, (s[5], s[6]), vals(b6_lo, 100), vals(b6_tail, 100))
ax.set_ylim(100, 2.05e4)
ax.set_yticks([100, 1000, 10000])
nudge_ends(ax, top=False)
ax.set_xlim(1, 20275)
ax.set_xticks(index_ticks)
ax.set_xticklabels([])
letter(ax, 'b', 0.826)
fig.text(0.022, 0.525 + 0.0695, r'L$_{\rm SC}$ [km]', rotation=90, fontsize=33, color=axis_grey, ha='center', va='center')

# ---------------- c
ax = fig.add_axes([L, 0.359, W, 0.140])
style(ax)
ax.axhspan(-0.1, c_threshold, color=pink, lw=0, zorder=0)
ax.axhline(c_threshold, color='#ff0000', lw=1.5, dashes=(9.6, 12), zorder=4)
v = vals(c1, 0.01)
dots(ax, spread((s[0], s[1]), v), v)
streaks(ax, c_core_range, -0.01, vals(c_core_hi, 0.001), 4.8)
v = vals(c2, 0.01)
dots(ax, spread((s[1], s[3]), v), v)
dots(ax, c2_out_x, c2_out_y)
for part in (c3, c3_mid, c3_low):
    v = vals(part, 0.01)
    dots(ax, spread((s[3], s[6] - 30), v), v)
ax.set_ylim(0, 1)
ax.set_yticks([0, 0.5, 1])
ax.set_yticklabels(['0', '0.5', '1'])
nudge_ends(ax)
ax.set_xlim(1, 20275)
ax.set_xticks(index_ticks)
ax.set_xticklabels([])
letter(ax, 'c', 0.832)
ax.text(0.192, 0.282, r'$\sigma^2$=0.25', transform=ax.transAxes, color='#ff0000', fontsize=tfs, va='baseline', ha='left', zorder=5)
fig.text(0.016, 0.359 + 0.070, 'residue', rotation=90, fontsize=33, color=axis_grey, ha='center', va='center')

# ---------------- d
ax = fig.add_axes([L, 0.193, W, 0.141])
style(ax)
ax.axhspan(d_threshold, 0.1, color=pink, lw=0, zorder=0)
ax.axhline(d_threshold, color='#ff0000', lw=1.5, dashes=(9.6, 12), zorder=4)
streaks(ax, (s[0], s[3]), 0.01, -vals(d_core_hi, 0.01), 3.6)
v = -vals(d1_pink, 0.01)
dots(ax, spread((s[0] + 20, s[3]), v), v)
v = -vals(d1a, 0.01)
dots(ax, spread((s[0] + 20, s[1]), v), v)
v = -vals(d1b, 0.01)
dots(ax, spread((s[1], s[3]), v), v)
v = -vals(d2, 0.01)
dots(ax, spread((s[3], s[4]), v), v)
v = -vals(d2_top, 0.01)
dots(ax, spread((s[3], s[4]), v), v)
v = -vals(d3, 0.01)
dots(ax, spread((s[4], s[5]), v), v)
dots(ax, d4_x, d4_y)
ax.set_ylim(-2, 0)
ax.set_yticks([-2, -1, 0])
nudge_ends(ax)
ax.set_xlim(1, 20275)
ax.set_xticks(index_ticks)
ax.set_xticklabels([])
letter(ax, 'd', 0.032)
ax.text(0.977, 0.705, r'r$_{\rm V}$=0.5', transform=ax.transAxes, color='#ff0000', fontsize=tfs, va='baseline', ha='right', zorder=5)
fig.text(0.020, 0.193 + 0.0705, r'log(r$_{\rm V}$)', rotation=90, fontsize=33, color=axis_grey, ha='center', va='center')

# ---------------- e
ax = fig.add_axes([L, 0.0274, W, 0.1404])
style(ax)
ax.axhspan(-0.1, e_threshold, color=pink, lw=0, zorder=0)
ax.axhline(e_threshold, color='#ff0000', lw=1.5, dashes=(9.6, 12), zorder=4)
streaks(ax, (s[0] + 20, s[1]), vals(e1_lo, 0.01), vals(e1_hi, 0.01), 2.3)
v = vals(e1, 0.01)
dots(ax, spread((s[0] + 20, s[1]), v), v)
streaks(ax, (s[1], s[3]), vals(e2_lo, 0.01), vals(e2_hi, 0.01), 2.5)
v = vals(e2, 0.01)
dots(ax, spread((s[1], s[3]), v), v)
v = vals(e3, 0.01)
dots(ax, spread((s[3], s[4]), v), v)
v = vals(e4, 0.01)
dots(ax, spread((s[4], s[5]), v), v)
v = vals(e4_high, 0.01)
dots(ax, spread((s[4], s[5]), v), v)
streaks(ax, (s[5], s[6] - 30), vals(e5_lo, 0.01), vals(e5_hi, 0.01), 2.0)
v = vals(e5, 0.01)
dots(ax, spread((s[5], s[6] - 30), v), v)
dots(ax, e_edge_x, e_edge_y)
ax.set_ylim(0, 4)
ax.set_yticks([0, 2, 4])
ax.set_yticks([1, 3], minor=True)
nudge_ends(ax)
ax.set_xlim(1, 20275)
ax.set_xticks(index_ticks)
ax.set_xticklabels(index_labels)
ax.tick_params(axis='x', pad=11)
letter(ax, 'e', 0.832)
ax.text(0.979, 0.286, 'cond(R)=10', transform=ax.transAxes, color='#ff0000', fontsize=tfs, va='baseline', ha='right', zorder=5)
fig.text(0.017, 0.0274 + 0.0702, 'log(cond(R))', rotation=90, fontsize=29, color=axis_grey, ha='center', va='center')

fig.savefig('out.png', dpi=100)
